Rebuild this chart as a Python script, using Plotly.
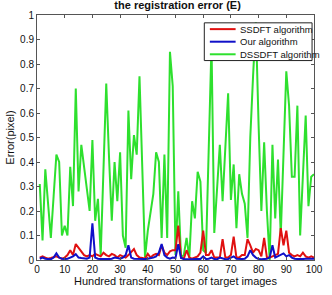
import plotly.graph_objects as go

x_idx = list(range(1, 101))

ssdft = [0.01, 0.015, 0.01, 0.005, 0.008, 0.01, 0.015, 0.01, 0.005, 0.01,
         0.02, 0.04, 0.02, 0.065, 0.05, 0.03, 0.02, 0.015, 0.02, 0.015,
         0.025, 0.02, 0.015, 0.03, 0.02, 0.015, 0.025, 0.02, 0.01, 0.02,
         0.015, 0.01, 0.02, 0.035, 0.045, 0.02, 0.01, 0.008, 0.005, 0.025,
         0.01, 0.02, 0.025, 0.02, 0.06, 0.03, 0.02, 0.035, 0.04, 0.04,
         0.14, 0.01, 0.005, 0.04, 0.01, 0.005, 0.01, 0.015, 0.03, 0.12,
         0.02, 0.02, 0.04, 0.01, 0.01, 0.01, 0.085, 0.01, 0.01, 0.02,
         0.095, 0.01, 0.01, 0.02, 0.02, 0.085, 0.06, 0.03, 0.045, 0.04,
         0.015, 0.09, 0.01, 0.01, 0.015, 0.02, 0.025, 0.13, 0.06, 0.12,
         0.03, 0.02, 0.015, 0.02, 0.015, 0.03, 0.015, 0.01, 0.015, 0.01]

ours = [0.005, 0.01, 0.005, 0.005, 0.003, 0.01, 0.027, 0.01, 0.005, 0.004,
        0.005, 0.01, 0.015, 0.024, 0.01, 0.008, 0.005, 0.005, 0.01, 0.15,
        0.01, 0.005, 0.004, 0.003, 0.005, 0.004, 0.005, 0.01, 0.008, 0.005,
        0.01, 0.02, 0.06, 0.01, 0.005, 0.004, 0.003, 0.003, 0.004, 0.005,
        0.006, 0.01, 0.015, 0.03, 0.065, 0.02, 0.01, 0.005, 0.01, 0.008,
        0.065, 0.008, 0.004, 0.003, 0.003, 0.003, 0.004, 0.005, 0.004, 0.015,
        0.004, 0.005, 0.01, 0.004, 0.003, 0.01, 0.005, 0.003, 0.004, 0.01,
        0.015, 0.005, 0.003, 0.004, 0.005, 0.015, 0.04, 0.02, 0.01, 0.004,
        0.003, 0.004, 0.005, 0.01, 0.06, 0.01, 0.015, 0.02, 0.027, 0.015,
        0.02, 0.01, 0.005, 0.004, 0.003, 0.004, 0.005, 0.004, 0.005, 0.005]

dssdft = [0.31, 0.08, 0.37, 0.23, 0.09, 0.26, 0.43, 0.40, 0.10, 0.14,
          0.10, 0.38, 0.22, 0.70, 0.28, 0.47, 0.37, 0.29, 0.20, 0.49,
          0.16, 0.25, 0.02, 0.37, 0.72, 0.42, 0.16, 0.40, 0.24, 0.44,
          0.10, 0.05, 0.61, 0.33, 0.51, 0.43, 0.75, 0.38, 0.01, 0.12,
          0.19, 0.27, 0.44, 0.40, 0.09, 0.43, 0.09, 0.85, 0.71, 0.02,
          0.28, 0.01, 0.02, 0.09, 0.01, 0.24, 0.17, 0.36, 0.32, 0.04,
          0.03, 0.45, 0.88, 0.11, 0.29, 0.47, 0.24, 0.46, 0.68, 0.245,
          0.39, 0.13, 0.35, 0.27, 0.23, 0.09, 0.50, 0.75, 0.97, 0.55,
          0.20, 0.48, 0.20, 0.0, 0.47, 0.17, 0.41, 0.10, 0.44, 0.77,
          0.63, 0.34, 0.34, 0.63, 0.10, 0.35, 0.59, 0.22, 0.34, 0.35]

series_names = ["SSDFT algorithm", "Our algorithm", "DSSDFT algorithm"]
series_colors = ["#e01010", "#1010c8", "#2ee02e"]

x_ticks = list(range(0, 101, 10))
y_ticks = [round(i * 0.1, 1) for i in range(11)]
y_labels = ["0", "0.1", "0.2", "0.3", "0.4", "0.5", "0.6", "0.7", "0.8", "0.9", "1"]

FONT = "Liberation Sans, Arial"

fig = go.Figure()
# draw order: green underneath, then red, then blue
fig.add_trace(go.Scatter(x=x_idx, y=dssdft, mode="lines", name=series_names[2],
                         line=dict(color=series_colors[2], width=2), showlegend=False))
fig.add_trace(go.Scatter(x=x_idx, y=ssdft, mode="lines", name=series_names[0],
                         line=dict(color=series_colors[0], width=2), showlegend=False))
fig.add_trace(go.Scatter(x=x_idx, y=ours, mode="lines", name=series_names[1],
                         line=dict(color=series_colors[1], width=2), showlegend=False))

axis_common = dict(showline=True, linecolor="#555555", linewidth=1, mirror="allticks",
                   ticks="inside", ticklen=3, tickcolor="#555555", showgrid=False,
                   zeroline=False, tickfont=dict(family=FONT, size=10, color="#111111"))

fig.update_xaxes(range=[0, 100], tickvals=x_ticks, ticktext=[str(t) for t in x_ticks],
                 title=dict(text="Hundred transformations of target images",
                            font=dict(family=FONT, size=11, color="#111111"),
                            standoff=3),
                 **axis_common)
fig.update_yaxes(range=[0, 1], tickvals=y_ticks, ticktext=y_labels,
                 title=dict(text="Error(pixel)",
                            font=dict(family=FONT, size=11, color="#111111"),
                            standoff=3),
                 **axis_common)

# compact legend box (paper coordinates of the plot area)
leg_x0, leg_x1 = 0.604, 0.993
leg_y1, leg_y0 = 0.968, 0.814
row_h = (leg_y1 - leg_y0) / len(series_names)
shapes = [dict(type="rect", xref="paper", yref="paper", x0=leg_x0, x1=leg_x1,
               y0=leg_y0, y1=leg_y1, fillcolor="white", line=dict(color="#222222", width=1),
               layer="above")]
annotations = []
for i, (nm, col) in enumerate(zip(series_names, series_colors)):
    yc = leg_y1 - row_h * (i + 0.5)
    shapes.append(dict(type="line", xref="paper", yref="paper", x0=leg_x0 + 0.02,
                       x1=leg_x0 + 0.113, y0=yc, y1=yc, line=dict(color=col, width=2),
                       layer="above"))
    annotations.append(dict(text=nm, xref="paper", yref="paper", x=leg_x0 + 0.123, y=yc,
                            xanchor="left", yanchor="middle", showarrow=False,
                            font=dict(family=FONT, size=9.5, color="#111111")))

fig.update_layout(
    width=332, height=295,
    margin=dict(l=30, r=9, t=15, b=33),
    paper_bgcolor="white", plot_bgcolor="white",
    title=dict(text="<b>the registration error (E)</b>", x=0.535, xanchor="center",
               yref="container", y=0.995, yanchor="top",
               font=dict(family=FONT, size=11, color="#111111")),
    shapes=shapes,
    annotations=annotations,
    showlegend=False,
)

fig.write_html("out.html", config={"displayModeBar": False},
               post_script="document.body.style.margin='0';document.body.style.overflow='hidden';")
